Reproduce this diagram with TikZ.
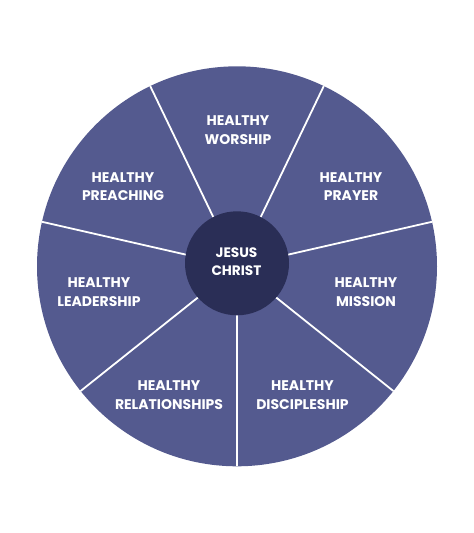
\documentclass[tikz,border=0pt]{standalone}
\usepackage{fontspec}
\setmainfont{Poppins}
\definecolor{wheel}{RGB}{84,90,143}
\definecolor{hub}{RGB}{42,46,86}
\begin{document}
\begin{tikzpicture}[x=1pt,y=1pt,
  lbl/.style={text=white,font=\fontsize{14}{18.3}\selectfont\bfseries,align=center,inner sep=0pt},
  hublbl/.style={text=white,font=\fontsize{13.7}{17.7}\selectfont\bfseries,align=center,inner sep=0pt},
  spoke/.style={draw=white,line width=1.8pt}]
\useasboundingbox (0,0) rectangle (474,-533);
\coordinate (c) at (237,-266.3);
\fill[wheel] (c) circle (200);
\foreach \k in {0,...,6}{
  \draw[spoke] (c) -- ++({-90+\k*360/7}:200);
}
\fill[hub] (237,-263.3) circle (52);
\node[hublbl] (jc) at (236.5,-262) {JESUS\\CHRIST};
\node[lbl] (worship) at (238,-130) {HEALTHY\\WORSHIP};
\node[lbl] (prayer) at (351,-186.5) {HEALTHY\\PRAYER};
\node[lbl] (preaching) at (123,-186.5) {HEALTHY\\PREACHING};
\node[lbl] (leadership) at (99,-292) {HEALTHY\\LEADERSHIP};
\node[lbl] (mission) at (366,-292) {HEALTHY\\MISSION};
\node[lbl] (relationships) at (169,-395) {HEALTHY\\RELATIONSHIPS};
\node[lbl] (discipleship) at (302.5,-395) {HEALTHY\\DISCIPLESHIP};
\end{tikzpicture}
\end{document}
